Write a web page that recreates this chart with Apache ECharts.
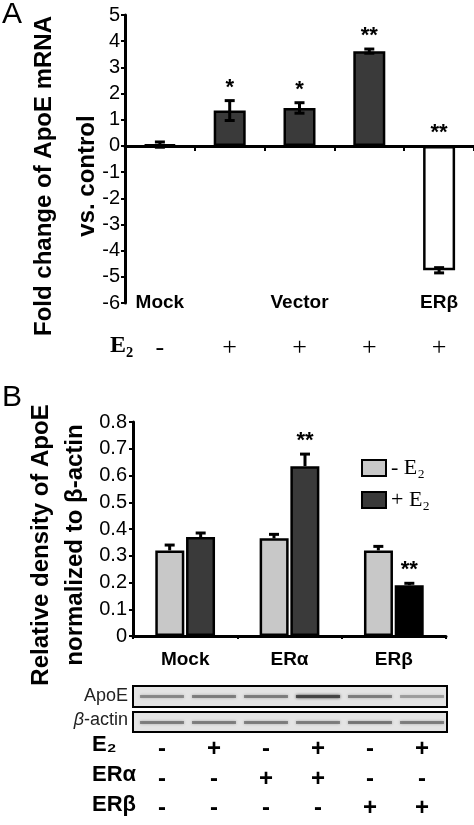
<!DOCTYPE html><html><head><meta charset="utf-8"><script src="https://cdn.jsdelivr.net/npm/echarts@6/dist/echarts.min.js"></script>
<style>html,body{margin:0;padding:0;background:#fff}#c{width:474px;height:825px}</style></head><body><div id="c"></div><script>
const catsA=['Mock','Mock','Vector','ERα','ERβ'];
const valsA=[0.05,1.35,1.45,3.62,-4.75];
const errA=[0.1,0.38,0.2,0.08,0.1];
const starsA=['','*','*','**','**'];
const e2A=['-','+','+','+','+'];
const yTicksA=[-6,5];
const catsB=['Mock','ERα','ERβ'];
const minusE2=[0.32,0.365,0.32];
const plusE2=[0.37,0.635,0.19];
const errMinus=[0.02,0.015,0.015];
const errPlus=[0.015,0.045,0.007];
const starsB=['','**','**'];
const lanes=['1','2','3','4','5','6'];
const rowE2=['-','+','-','+','-','+'];
const rowERa=['-','-','+','+','-','-'];
const rowERb=['-','-','-','-','+','+'];
const apoeBand=[0.45,0.5,0.5,0.85,0.5,0.35];
const actinBand=[0.5,0.5,0.5,0.5,0.55,0.5];

const ch=echarts.init(document.getElementById('c'));
const F='Liberation Sans, Arial, sans-serif';
function errSeries(xi,yi,vals,errs,stars,offset,both){
  return {type:'custom',xAxisIndex:xi,yAxisIndex:yi,z:5,
    data:vals.map((v,i)=>[i,v,errs[i]]),
    renderItem:(p,api)=>{
      const i=api.value(0),v=api.value(1),e=api.value(2),s=stars[i];
      const c=api.coord([i,v]);const x=c[0]+offset;
      const top=api.coord([i,v+e])[1],bot=api.coord([i,both?v-e:v])[1];
      const st={stroke:'#000',lineWidth:3};
      const ch=[{type:'line',shape:{x1:x,y1:top,x2:x,y2:bot},style:st},
        {type:'line',shape:{x1:x-5,y1:top,x2:x+5,y2:top},style:st}];
      if(both)ch.push({type:'line',shape:{x1:x-5,y1:bot,x2:x+5,y2:bot},style:st});
      if(s){const ty=v>=0?top-2:api.coord([i,0])[1]-2;
        ch.push({type:'text',style:{text:s,x:x,y:ty,align:'center',verticalAlign:'bottom',font:'bold 22px '+F,fill:'#000'}});}
      return {type:'group',children:ch};
    }};
}
const graphics=[
 {type:'text',left:2,top:0,style:{text:'A',font:'30px '+F,fill:'#000'}},
 {type:'text',left:2,top:383,style:{text:'B',font:'30px '+F,fill:'#000'}},
 {type:'text',x:66,y:176,rotation:Math.PI/2,style:{text:'Fold change of ApoE mRNA\nvs. control',font:'bold 24px '+F,fill:'#000',align:'center',verticalAlign:'middle',lineHeight:43}},
 {type:'text',x:58,y:545,rotation:Math.PI/2,style:{text:'Relative density of ApoE\nnormalized to β-actin',font:'bold 24px '+F,fill:'#000',align:'center',verticalAlign:'middle',lineHeight:34}},
 {type:'text',left:110,top:334,style:{text:'E₂',font:'bold 24px Liberation Serif, serif',fill:'#000'}},
 {type:'text',left:92,top:734,style:{text:'E₂',font:'bold 22px '+F,fill:'#000'}},
 {type:'text',left:92,top:764,style:{text:'ERα',font:'bold 22px '+F,fill:'#000'}},
 {type:'text',left:92,top:794,style:{text:'ERβ',font:'bold 22px '+F,fill:'#000'}},
 {type:'text',right:346,top:687,style:{text:'ApoE',font:'18px '+F,fill:'#222'}},
 {type:'text',right:346,top:711,style:{rich:{i:{font:'italic 18px '+F,fill:'#222'},n:{font:'18px '+F,fill:'#222'}},text:'{i|β}{n|-actin}'}},
 {type:'rect',shape:{x:133,y:686,width:314,height:21},style:{fill:'#e4e4e4',stroke:'#000',lineWidth:2}},
 {type:'rect',shape:{x:133,y:712,width:314,height:20},style:{fill:'#e4e4e4',stroke:'#000',lineWidth:2}}
];
lanes.forEach((l,i)=>{const cx=162+i*52;
 graphics.push({type:'rect',shape:{x:cx-22,y:695,width:44,height:3},style:{fill:'rgba(60,60,60,'+apoeBand[i]+')',shadowBlur:3,shadowColor:'rgba(0,0,0,'+apoeBand[i]+')'}});
 graphics.push({type:'rect',shape:{x:cx-22,y:721,width:44,height:3},style:{fill:'rgba(60,60,60,'+actinBand[i]+')',shadowBlur:3,shadowColor:'rgba(0,0,0,0.5)'}});
});
const signLbl={fontSize:24,fontWeight:'bold',color:'#000',fontFamily:F,verticalAlign:'middle',margin:13};
const signAxis=(data,off)=>({gridIndex:2,type:'category',data:data,position:'bottom',offset:off,axisLine:{show:false},axisTick:{show:false},axisLabel:signLbl});
ch.setOption({animation:false,
 grid:[{left:125,top:15,width:349,height:288},{left:133,top:422,width:313,height:214},{left:136,top:735,width:312,height:1}],
 xAxis:[
  {gridIndex:0,type:'category',data:catsA,axisLine:{onZero:true,lineStyle:{color:'#000',width:3}},axisTick:{show:true,length:5,lineStyle:{color:'#000',width:2}},axisLabel:{show:false}},
  {gridIndex:0,type:'category',data:catsA,position:'bottom',axisLine:{show:false,onZero:false},axisTick:{show:false},axisLabel:{margin:0,verticalAlign:'middle',fontSize:19,fontWeight:'bold',fontFamily:F,color:'#000'}},
  {gridIndex:0,type:'category',data:e2A,position:'bottom',axisLine:{show:false,onZero:false},axisTick:{show:false},axisLabel:{margin:45,verticalAlign:'middle',fontSize:26,fontFamily:'Liberation Serif, serif',color:'#000'}},
  {gridIndex:1,type:'category',data:catsB,axisLine:{lineStyle:{color:'#000',width:3}},axisTick:{show:true,length:3,lineStyle:{color:'#000',width:2}},axisLabel:{margin:14,fontSize:19,fontWeight:'bold',fontFamily:F,color:'#000'}},
  signAxis(rowE2,0),signAxis(rowERa,30),signAxis(rowERb,59)
 ],
 yAxis:[
  {gridIndex:0,min:yTicksA[0],max:yTicksA[1],interval:1,axisLine:{show:true,lineStyle:{color:'#000',width:3}},axisTick:{show:true,length:4,lineStyle:{color:'#000',width:2}},splitLine:{show:false},axisLabel:{fontSize:20,color:'#000',fontFamily:F,margin:5}},
  {gridIndex:1,min:0,max:0.8,interval:0.1,axisLine:{show:true,lineStyle:{color:'#000',width:3}},axisTick:{show:true,length:4,lineStyle:{color:'#000',width:2}},splitLine:{show:false},axisLabel:{fontSize:20,color:'#000',fontFamily:F,margin:6}},
  {gridIndex:2,show:false}
 ],
 legend:{data:['- E₂','+ E₂'],orient:'vertical',left:356,top:452,itemWidth:24,itemHeight:16,itemGap:10,icon:'rect',textStyle:{fontFamily:'Liberation Serif, serif',fontSize:22,color:'#000'}},
 series:[
  {type:'bar',xAxisIndex:0,yAxisIndex:0,barWidth:32,data:valsA.map((v,i)=>({value:v,itemStyle:{color:i===4?'#fff':'#3a3a3a'}})),itemStyle:{borderColor:'#000',borderWidth:2.5}},
  errSeries(0,0,valsA,errA,starsA,0,true),
  {name:'- E₂',type:'bar',xAxisIndex:3,yAxisIndex:1,barWidth:29,barGap:'6%',data:minusE2,itemStyle:{color:'#c8c8c8',borderColor:'#000',borderWidth:2.5}},
  {name:'+ E₂',type:'bar',xAxisIndex:3,yAxisIndex:1,barWidth:29,barGap:'6%',data:plusE2.map((v,i)=>({value:v,itemStyle:{color:i===2?'#000':'#3a3a3a'}})),itemStyle:{color:'#3a3a3a',borderColor:'#000',borderWidth:2.5}},
  errSeries(3,1,minusE2,errMinus,['','',''],-15.5,false),
  errSeries(3,1,plusE2,errPlus,starsB,15.5,false),
  {type:'scatter',xAxisIndex:4,yAxisIndex:2,data:[],silent:true}
 ],
 graphic:graphics
});
</script></body></html>
